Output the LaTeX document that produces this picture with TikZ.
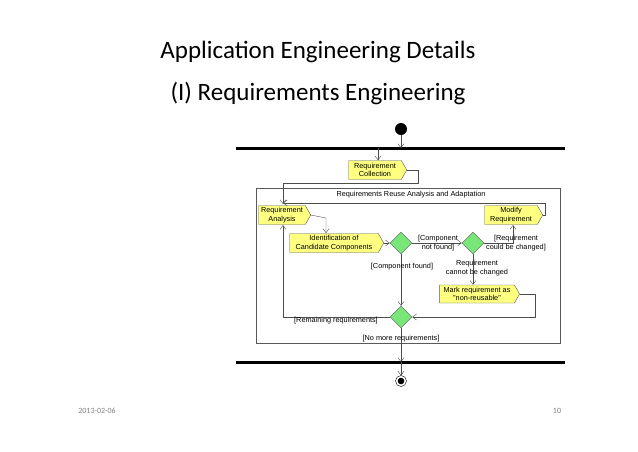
\documentclass[tikz,border=0pt]{standalone}
\usepackage{fontspec}
\setmainfont{Carlito}
\newfontfamily\dsf{Liberation Sans}
\usetikzlibrary{shapes.symbols,shapes.geometric,arrows.meta}
\definecolor{act}{RGB}{255,255,128}
\definecolor{dia}{RGB}{120,230,120}
\begin{document}
\begin{tikzpicture}[x=1pt,y=-1pt,
  every node/.style={font=\dsf\fontsize{7.3}{8.3}\selectfont,align=center,inner sep=1pt},
  act/.style={signal,signal to=east,signal pointer angle=120,draw=gray!70!black,fill=act,minimum height=19pt,inner xsep=2pt},
  dia/.style={diamond,draw=gray!70!black,fill=dia,minimum width=22pt,minimum height=22pt,inner sep=0pt},
  bar/.style={line width=3pt},
  fl/.style={draw=gray!60!black,-{Straight Barb[length=4pt,width=6pt]}},
  ln/.style={draw=gray!60!black}]
\useasboundingbox (0,0) rectangle (638,451);
\node[font=\fontsize{25}{28}\selectfont] (t1) at (318,52) {Application Engineering Details};
\node[font=\fontsize{25}{28}\selectfont] (t2) at (318,93) {(I) Requirements Engineering};
\node[font=\fontsize{8}{9}\selectfont,text=gray] (d) at (97,411) {2013-02-06};
\node[font=\fontsize{8}{9}\selectfont,text=gray] (p) at (557,411) {10};
\draw[draw=gray!70!black] (256,188) rectangle (560,343);
\node (box) at (411,195) {Requirements Reuse Analysis and Adaptation};
\fill (401,129) circle (6);
\coordinate (s) at (401,135);
\draw[bar] (236,148) -- (565,148);
\draw[bar] (236,362) -- (565,362);
\draw[fl] (s) -- (401,148);
\node[act,minimum width=58pt] (rc) at (375,170) {Requirement\\Collection};
\draw[fl] (378,148) -- (rc.north -| 378,0);
\node[act,minimum width=52pt] (ra) at (282,215) {Requirement\\Analysis};
\node[act,minimum width=58pt] (mr) at (511,215) {Modify\\Requirement};
\node[act,minimum width=94pt] (ic) at (334,243) {Identification of\\Candidate Components};
\node[act,minimum width=80pt,minimum height=18pt] (mk) at (477,294) {Mark requirement as\\"non-reusable"};
\node[dia] (d1) at (401,243) {};
\node[dia] (d2) at (473,243) {};
\node[dia] (d3) at (401,317) {};
\fill[white,draw=black] (401,381) circle (5.5);
\fill (401,381) circle (3.3);
\coordinate (e) at (401,375.5);
\draw[fl] (rc.east) -- (418,170) -- (418,183) -- (283,183) -- (283,204);
\draw[fl] (mr.east) -- (545,215) -- (545,203) -- (283,203);
\draw[fl] (ra.east) -- (326,218) -- (326,233);
\draw[fl] (ic.east) -- (d1.west);
\draw[fl] (d1.east) -- (d2.west);
\draw[fl] (d2.east) -- (513,243) -- (513,225);
\draw[fl] (d2.south) -- (mk.north -| d2.south);
\draw[fl] (mk.east) -- (535,294) -- (535,317) -- (d3.east);
\draw[fl] (d1.south) -- (d3.north);
\draw[fl] (d3.west) -- (283,317) -- (283,225);
\draw[fl] (d3.south) -- (401,362);
\draw[fl] (401,362) -- (e);
\node (l1) at (438,243) {[Component\\ not found]};
\node (l2) at (516,243) {[Requirement\\could be changed]};
\node (l3) at (477,268) {Requirement\\cannot be changed};
\node (l4) at (402,267) {[Component found]};
\node (l5) at (336,321) {[Remaining requirements]};
\node (l6) at (401,339) {[No more requirements]};
\end{tikzpicture}
\end{document}
